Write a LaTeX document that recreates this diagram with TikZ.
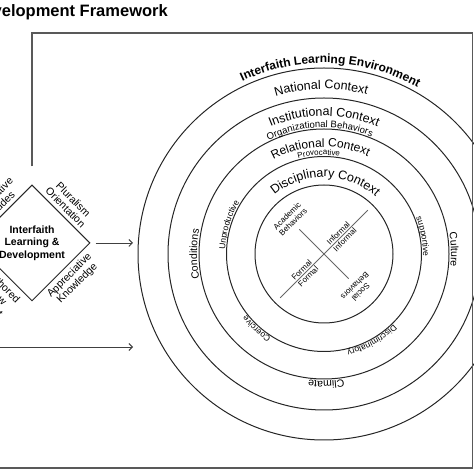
\documentclass[tikz,border=0pt]{standalone}
\usepackage{fontspec}
\setmainfont{Liberation Sans}
\usetikzlibrary{shapes.geometric,decorations.text,arrows.meta}
\newcommand\ringtext[5]{%
  \path[decorate,decoration={text along path,text align=center,
    text={|\fontsize{#4}{#4}\selectfont|#5}}]
    ([shift={({#2+#3}:#1)}]C) arc[start angle={#2+#3}, end angle={#2-#3}, radius=#1];}
\newcommand\ringtextb[5]{%
  \path[decorate,decoration={text along path,text align=center,
    text={|\fontsize{#4}{#4}\selectfont\bfseries|#5}}]
    ([shift={({#2+#3}:#1)}]C) arc[start angle={#2+#3}, end angle={#2-#3}, radius=#1];}
\begin{document}
\begin{tikzpicture}[x=1pt,y=1pt,
  ring/.style={draw=black!85, line width=1pt},
  frameln/.style={draw=black!65, line width=1.5pt},
  arr/.style={draw=black!75, line width=0.9pt, -{Straight Barb[length=3.5pt,width=7pt]}},
  inl/.style={draw=black!60, line width=0.8pt},
  sidelbl/.style={align=center, inner sep=0pt, font=\fontsize{10.5}{11}\selectfont},
  inlbl/.style={inner sep=1.5pt, font=\fontsize{8}{8}\selectfont},
  endlbl/.style={align=center, inner sep=0pt, font=\fontsize{8}{8.5}\selectfont}]
\useasboundingbox (0,0) rectangle (474,474);
\clip (0,0) rectangle (474,474);
\coordinate (C) at (324,220);
% title
\node[anchor=base east, inner sep=0pt, font=\bfseries\fontsize{16.5}{16.5}\selectfont] (title) at (168,457) {Development Framework};
% rings
\draw[ring] (C) circle[radius=69];
\draw[ring] (C) circle[radius=97.5];
\draw[ring] (C) circle[radius=125];
\draw[ring] (C) circle[radius=156];
\draw[ring] (C) circle[radius=186];
% diamond
\node[diamond, draw=black!85, line width=1pt, minimum width=116pt, minimum height=116pt,
  inner sep=0pt, align=center, font=\bfseries\fontsize{10.5}{12.5}\selectfont] (dia) at (32,231)
  {Interfaith\\Learning \&\\Development};
\node[sidelbl, rotate=-45] (plur) at (69.5,270.5) {Pluralism\\Orientation};
\node[sidelbl, rotate=45] (apknow) at (73.5,194.5) {Appreciative\\Knowledge};
\node[sidelbl, rotate=45] (apatt) at (-5.5,270.5) {Appreciative\\Attitudes};
\node[sidelbl, rotate=-45] (self) at (-12,188) {Self-Authored\\Worldview\\Commitment};
% frame and arrows
\coordinate (f1) at (32,441);
\coordinate (f2) at (472.5,441);
\coordinate (f3) at (472.5,6);
\coordinate (f4) at (-2,6);
\draw[frameln] ([yshift=18pt]dia.north) -- (f1) -- (f2) -- (f3) -- (f4);
\coordinate (a1) at (133,231);
\draw[arr] ([xshift=5pt]dia.east) -- (a1);
\coordinate (b0) at (-2,127);
\coordinate (b1) at (133,127);
\draw[arr] (b0) -- (b1);
% ring labels
\ringtextb{191}{88}{60}{12}{Interfaith Learning Environment}
\ringtext{165}{91}{40}{12.5}{National Context}
\ringtext{138}{90}{45}{12.5}{Institutional Context}
\ringtext{126.5}{92}{45}{9.5}{Organizational Behaviors}
\ringtext{107}{92}{50}{12}{Relational Context}
\ringtext{99}{93}{30}{8}{Provocative}
\ringtext{77}{89}{75}{12.5}{Disciplinary Context}
\ringtext{127}{180}{40}{10.5}{Conditions}
\ringtext{127}{2}{40}{10.5}{Culture}
\ringtext{127}{-89}{40}{10.5}{Climate}
\ringtext{99}{163}{45}{8.5}{Unproductive}
\ringtext{99}{10}{45}{8.5}{supportive}
\ringtext{99}{-61}{50}{8.5}{Discriminatory}
\ringtext{99}{228}{50}{8.5}{Coercive}
% inner cross
\coordinate (l1a) at (280.2,176.2);
\coordinate (l1b) at (367.8,263.8);
\coordinate (l2a) at (299.3,244.7);
\coordinate (l2b) at (348.7,195.3);
\draw[inl] (l1a) -- (l1b);
\draw[inl] (l2a) -- (l2b);
\coordinate (pi) at (341.5,237.5);
\coordinate (pf) at (304.9,200.9);
\node[inlbl, rotate=45, anchor=south] (inf1) at (pi) {Informal};
\node[inlbl, rotate=45, anchor=north] (inf2) at (pi) {Informal};
\node[inlbl, rotate=45, anchor=south] (for1) at (pf) {Formal};
\node[inlbl, rotate=45, anchor=north] (for2) at (pf) {Formal};
\node[endlbl, rotate=45] (acad) at (290,255) {Academic\\Behaviors};
\node[endlbl, rotate=225] (soc) at (358,185) {Social\\Behaviors};
\end{tikzpicture}
\end{document}
